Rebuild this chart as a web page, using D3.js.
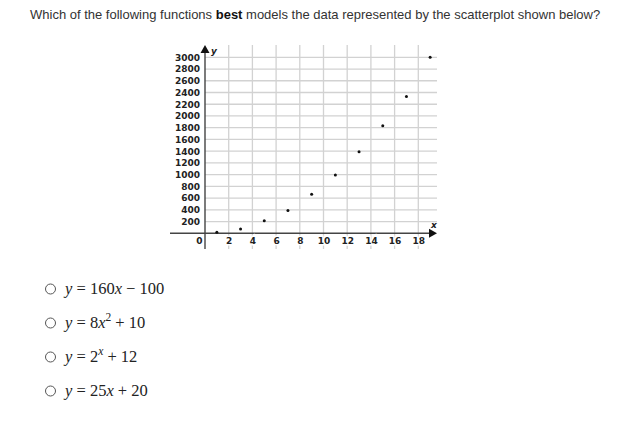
<!DOCTYPE html>
<html lang="en">
<head>
    <meta charset="UTF-8">
    <title>Scatterplot question</title>
    <style>
        html, body {
            margin: 0px;
            padding: 0px;
            background-color: white;
        }
        #vis {
            width: 628px;
            height: 426px;
            position: relative;
        }
        .question {
            font-family: 'Liberation Sans', Arial, sans-serif;
            font-size: 13px;
            fill: #333;
        }
        .tick text {
            font-family: 'DejaVu Sans', Verdana, sans-serif;
            font-weight: bold;
            font-size: 9px;
            fill: #222;
        }
        .grid {
            stroke: #d2d2d2;
            stroke-width: 1.3px;
        }
        .axisline {
            stroke: #444;
            stroke-width: 1.4px;
        }
        .option {
            font-family: 'Liberation Serif', 'Times New Roman', serif;
            font-size: 16.5px;
            fill: #222;
        }
        .option .v { font-style: italic; }
    </style>
</head>
<body>
    <div id="vis"></div>
    <script src="https://d3js.org/d3.v7.min.js"></script>
    <script>

        var xValues = [1, 3, 5, 7, 9, 11, 13, 15, 17, 19];
        var yValues = [20, 75, 215, 390, 665, 995, 1390, 1835, 2330, 3000];

        var xTicks = [2, 4, 6, 8, 10, 12, 14, 16, 18];
        var yTicks = [200, 400, 600, 800, 1000, 1200, 1400, 1600, 1800, 2000, 2200, 2400, 2600, 2800, 3000];

        var question = ["Which of the following functions ", "best", " models the data represented by the scatterplot shown below?"];

        // answer choices, each as [text, italic?, superscript?] pieces
        var options = [
            [["y", 1], [" = 160", 0], ["x", 1], [" \u2212 100", 0]],
            [["y", 1], [" = 8", 0], ["x", 1], ["2", 0, 1], [" + 10", 0]],
            [["y", 1], [" = 2", 0], ["x", 1, 1], [" + 12", 0]],
            [["y", 1], [" = 25", 0], ["x", 1], [" + 20", 0]]
        ];

        var width = 628;
        var height = 426;

        var svg = d3.select("#vis")
            .append("svg")
            .attr("width", width)
            .attr("height", height);

        // question line
        var q = svg.append("text")
            .attr("class", "question")
            .attr("x", 30)
            .attr("y", 19);
        q.selectAll("tspan")
            .data(question)
            .enter()
            .append("tspan")
            .style("font-weight", function(d, i){ return i == 1 ? "bold" : "normal"; })
            .style("fill", function(d, i){ return i == 1 ? "#111" : null; })
            .text(function(d){ return d; });

        // scales
        var x = d3.scaleLinear()
            .domain([0, 18])
            .range([205, 418.3]);

        var y = d3.scaleLinear()
            .domain([0, 3000])
            .range([233.3, 57.3]);

        var gridTop = 45;
        var gridBottom = 249;
        var gridRight = 437;

        var g = svg.append("g");

        // grid
        g.selectAll(".vgrid")
            .data(xTicks)
            .enter()
            .append("line")
            .attr("class", "grid")
            .attr("x1", function(d){ return x(d); })
            .attr("x2", function(d){ return x(d); })
            .attr("y1", gridTop)
            .attr("y2", gridBottom);

        g.selectAll(".hgrid")
            .data(yTicks)
            .enter()
            .append("line")
            .attr("class", "grid")
            .attr("x1", x(0))
            .attr("x2", gridRight)
            .attr("y1", function(d){ return y(d); })
            .attr("y2", function(d){ return y(d); });

        // axes lines with arrows
        g.append("line")
            .attr("class", "axisline")
            .attr("x1", x(0)).attr("x2", x(0))
            .attr("y1", gridBottom).attr("y2", gridTop + 6);
        g.append("line")
            .attr("class", "axisline")
            .attr("x1", 170).attr("x2", gridRight - 6)
            .attr("y1", y(0)).attr("y2", y(0));

        g.append("path")
            .attr("fill", "#111")
            .attr("d", "M" + x(0) + "," + gridTop + " l-4.5,8 l9,0 z");
        g.append("path")
            .attr("fill", "#111")
            .attr("d", "M" + gridRight + "," + y(0) + " l-8,-4.5 l0,9 z");

        // tick labels
        var yAxis = d3.axisLeft(y)
            .tickValues(yTicks)
            .tickFormat(d3.format("d"))
            .tickSize(0)
            .tickPadding(5);
        g.append("g")
            .attr("transform", "translate(" + x(0) + ",0)")
            .call(yAxis)
            .call(function(a){ a.select(".domain").remove(); });

        var xAxis = d3.axisBottom(x)
            .tickValues([0].concat(xTicks))
            .tickFormat(d3.format("d"))
            .tickSize(0)
            .tickPadding(4);
        var xa = g.append("g")
            .attr("transform", "translate(0," + y(0) + ")")
            .call(xAxis)
            .call(function(a){ a.select(".domain").remove(); });
        xa.selectAll(".tick text")
            .attr("paint-order", "stroke")
            .attr("stroke", "white")
            .attr("stroke-width", 3);
        xa.selectAll(".tick")
            .filter(function(d){ return d === 0; })
            .select("text")
            .attr("text-anchor", "end")
            .attr("x", -3);

        // axis names
        g.append("text")
            .attr("x", x(0) + 6)
            .attr("y", 54)
            .style("font-family", "'DejaVu Sans', Verdana, sans-serif")
            .style("font-style", "italic")
            .style("font-weight", "bold")
            .style("font-size", "9px")
            .style("fill", "#222")
            .text("y");
        g.append("text")
            .attr("x", 431)
            .attr("y", 228)
            .style("font-family", "'DejaVu Sans', Verdana, sans-serif")
            .style("font-style", "italic")
            .style("font-weight", "bold")
            .style("font-size", "9px")
            .style("fill", "#222")
            .text("x");

        // points
        g.selectAll(".dot")
            .data(xValues)
            .enter()
            .append("circle")
            .attr("class", "dot")
            .attr("r", 1.5)
            .attr("fill", "#111")
            .attr("cx", function(d){ return x(d); })
            .attr("cy", function(d, i){ return y(yValues[i]); });

        // answer options
        var opt = svg.selectAll(".opt")
            .data(options)
            .enter()
            .append("g")
            .attr("class", "opt")
            .attr("transform", function(d, i){ return "translate(0," + (289 + i * 34) + ")"; });

        opt.append("circle")
            .attr("cx", 50.5)
            .attr("cy", 0)
            .attr("r", 5)
            .attr("fill", "white")
            .attr("stroke", "#555")
            .attr("stroke-width", 1);

        opt.append("text")
            .attr("class", "option")
            .attr("x", 65)
            .attr("y", 5)
            .selectAll("tspan")
            .data(function(d){ return d; })
            .enter()
            .append("tspan")
            .attr("class", function(d){ return d[1] ? "v" : null; })
            .attr("dy", function(d, i, nodes){
                var prev = i > 0 ? d3.select(nodes[i - 1]).datum() : null;
                if (d[2]) return -7;
                if (prev && prev[2]) return 7;
                return 0;
            })
            .style("font-size", function(d){ return d[2] ? "11.5px" : null; })
            .text(function(d){ return d[0]; });

    </script>
</body>
</html>
